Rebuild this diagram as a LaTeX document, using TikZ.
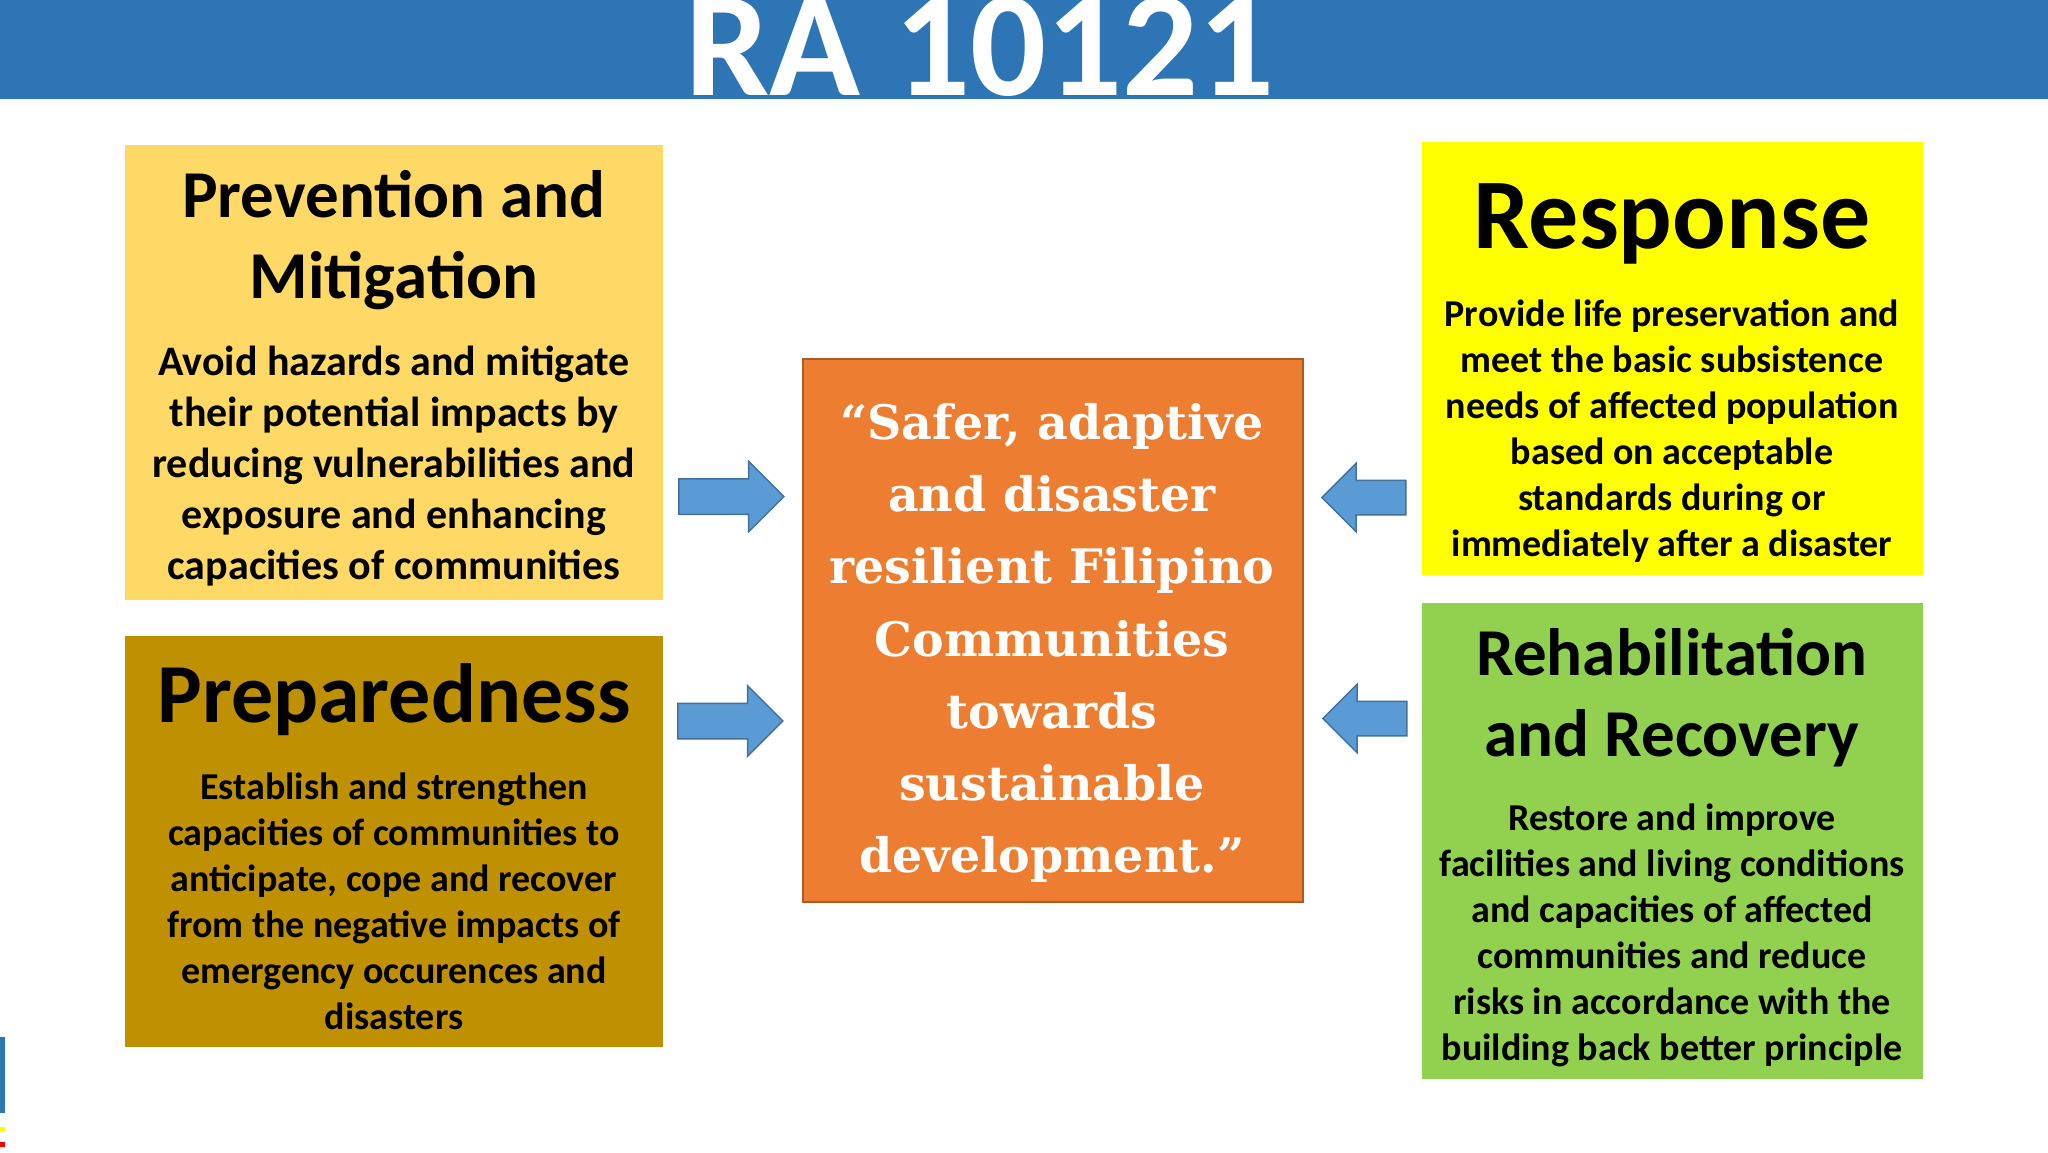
\documentclass[tikz,border=0pt]{standalone}
\usepackage{fontspec}
\setmainfont{Carlito}
\newfontfamily\quotefont{DejaVu Serif}
\usetikzlibrary{shapes.arrows}
\definecolor{bannerblue}{HTML}{2E75B6}
\definecolor{prevcol}{HTML}{FFD966}
\definecolor{prepcol}{HTML}{BF9000}
\definecolor{visioncol}{HTML}{ED7D31}
\definecolor{visionline}{HTML}{AE5A21}
\definecolor{respcol}{HTML}{FFFF00}
\definecolor{rehabcol}{HTML}{92D050}
\definecolor{arrowfill}{HTML}{5B9BD5}
\definecolor{arrowline}{HTML}{41719C}
\definecolor{markyellow}{HTML}{FFFF00}
\definecolor{markred}{HTML}{FF0000}
\begin{document}
\begin{tikzpicture}[x=1pt,y=-1pt,
  panel/.style={draw=none, inner sep=0pt, anchor=north west},
  headtext/.style={align=center, inner sep=0pt, text=black, font=\bfseries\fontsize{67}{81}\selectfont},
  bodytext/.style={align=center, inner sep=0pt, text=black, font=\bfseries\fontsize{38}{46}\selectfont},
  blockarrow/.style={single arrow, draw=arrowline, line width=1.5pt, fill=arrowfill,
    inner xsep=0pt, inner ysep=17pt, single arrow head extend=17.5pt, single arrow head indent=0pt}]
\useasboundingbox (0,0) rectangle (2048,1152);
\fill[white] (0,0) rectangle (2048,1152);
% banner
\node[panel, fill=bannerblue, minimum width=2048pt, minimum height=99pt] (banner) at (0,0) {};
\node[anchor=base, inner sep=0pt, text=white, font=\bfseries\fontsize{150}{150}\selectfont] (title) at (980,95) {RA 10121};
% side marks
\node[panel, fill=bannerblue, minimum width=5pt, minimum height=76pt] (markblue) at (0,1037) {};
\node[panel, fill=markyellow, minimum width=5pt, minimum height=5pt] (markyel) at (0,1127) {};
\node[panel, fill=markred, minimum width=5pt, minimum height=5pt] (markred) at (0,1142) {};
% panels
\node[panel, fill=prevcol, minimum width=538pt, minimum height=455pt] (prev) at (125,145) {};
\node[panel, fill=prepcol, minimum width=538pt, minimum height=411pt] (prep) at (125,636) {};
\node[panel, fill=visioncol, draw=visionline, line width=1.5pt, minimum width=500pt, minimum height=543pt] (vision) at (802,358) {};
\node[panel, fill=respcol, minimum width=501pt, minimum height=433pt] (resp) at (1422,142) {};
\node[panel, fill=rehabcol, minimum width=501pt, minimum height=476pt] (rehab) at (1422,603) {};
% texts
\node[headtext] (prevhead) at (394,240) {Prevention and\\Mitigation};
\node[bodytext, font=\bfseries\fontsize{42}{51}\selectfont] (prevbody) at (394,466) {Avoid hazards and mitigate\\their potential impacts by\\reducing vulnerabilities and\\exposure and enhancing\\capacities of communities};
\node[anchor=base, inner sep=0pt, font=\bfseries\fontsize{84}{84}\selectfont] (prephead) at (394,722) {Preparedness};
\node[bodytext] (prepbody) at (394,901) {Establish and strengthen\\capacities of communities to\\anticipate, cope and recover\\from the negative impacts of\\emergency occurences and\\disasters};
\node[anchor=base, inner sep=0pt, font=\bfseries\fontsize{100}{100}\selectfont] (resphead) at (1672,248) {Response};
\node[bodytext] (respbody) at (1672,431) {Provide life preservation and\\meet the basic subsistence\\needs of affected population\\based on acceptable\\standards during or\\immediately after a disaster};
\node[headtext] (rehabhead) at (1672,698) {Rehabilitation\\and Recovery};
\node[bodytext] (rehabbody) at (1672,935) {Restore and improve\\facilities and living conditions\\and capacities of affected\\communities and reduce\\risks in accordance with the\\building back better principle};
\node[align=center, inner sep=0pt, text=white, font=\quotefont\bfseries\fontsize{47.5}{72.2}\selectfont] (visiontext) at (1052,643) {“Safer, adaptive\\and disaster\\resilient Filipino\\Communities\\towards\\sustainable\\development.”};
% arrows
\node[blockarrow, minimum height=105pt] (arrowprev) at (722.5,496.5) {};
\node[blockarrow, minimum height=105pt] (arrowprep) at (721.5,721) {};
\node[blockarrow, minimum height=84pt, inner ysep=16.5pt, single arrow head extend=17pt, shape border rotate=180] (arrowresp) at (1372.5,497.5) {};
\node[blockarrow, minimum height=84pt, inner ysep=16.5pt, single arrow head extend=17pt, shape border rotate=180] (arrowrehab) at (1373.5,718.5) {};
\end{tikzpicture}
\end{document}
